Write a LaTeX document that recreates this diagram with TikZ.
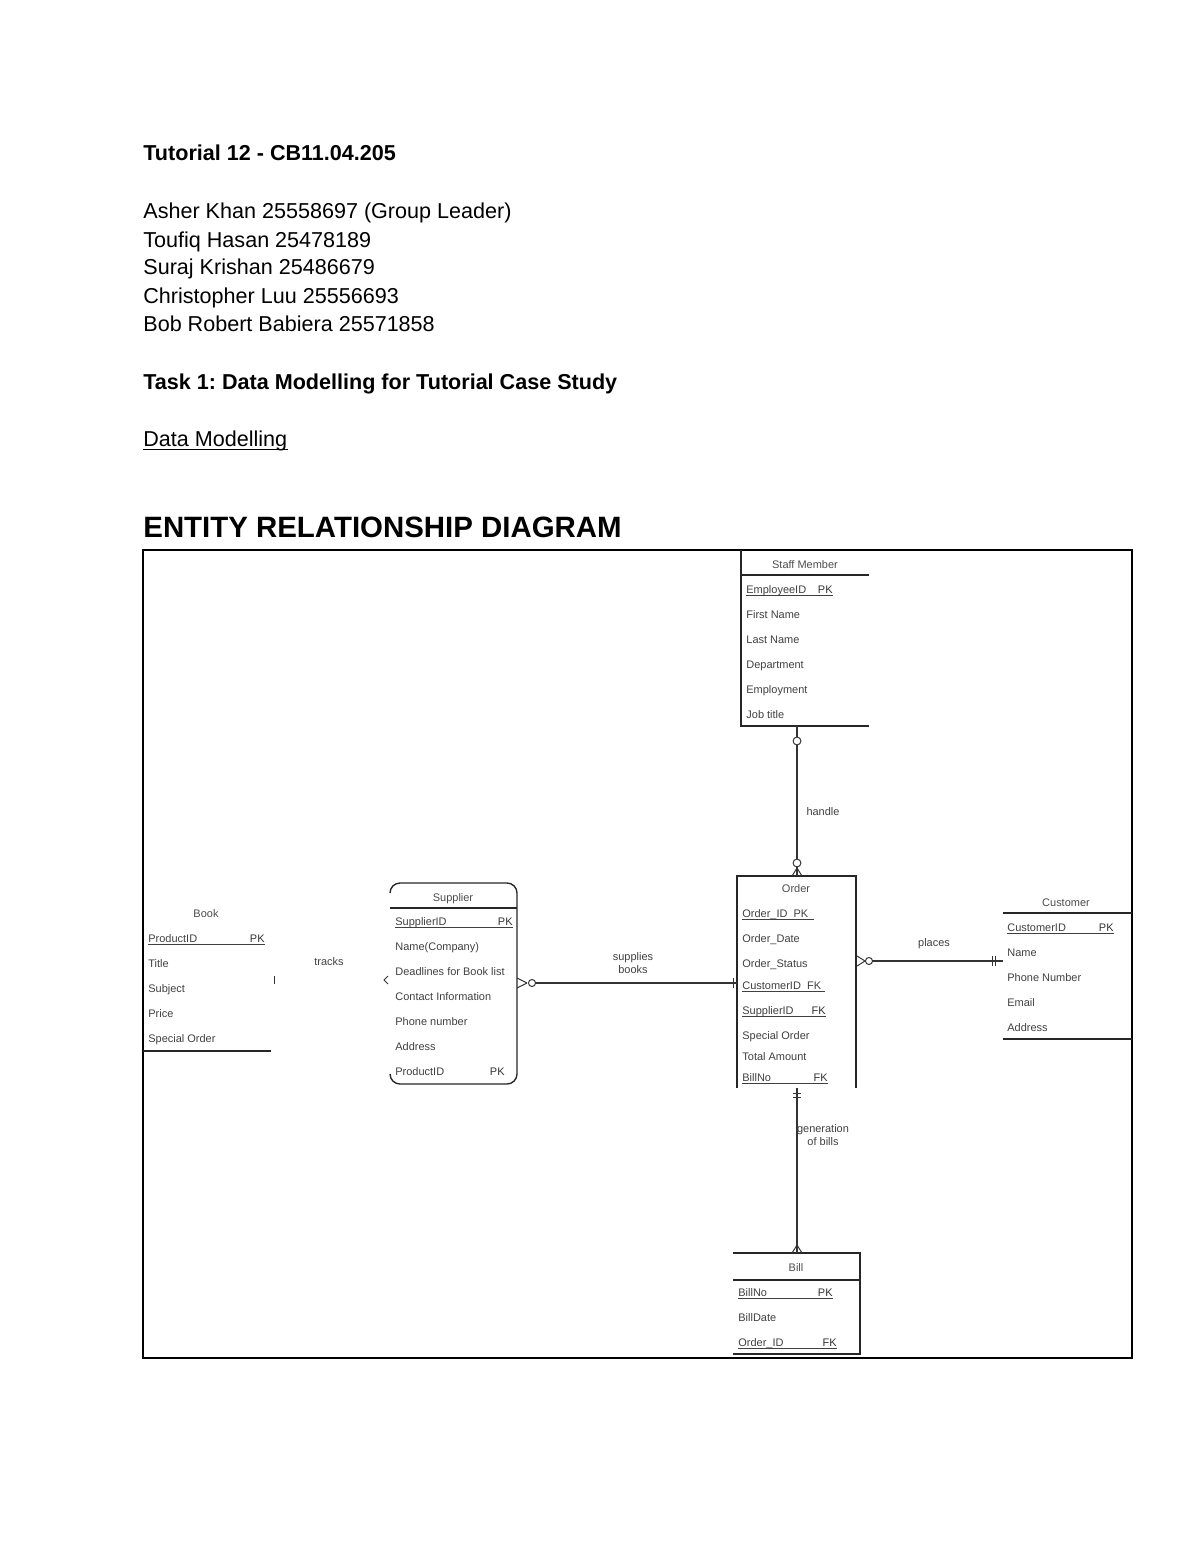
\documentclass[tikz,border=0pt]{standalone}
\usepackage{fontspec}
\setmainfont{Liberation Sans}
\frenchspacing
\begin{document}
\begin{tikzpicture}[x=0.51pt,y=-0.51pt,
  hdr/.style={anchor=base west,inner sep=0pt,font=\fontsize{11}{13}\selectfont},
  hdrb/.style={hdr,font=\fontsize{11}{13}\selectfont\bfseries},
  big/.style={anchor=base west,inner sep=0pt,font=\fontsize{15}{18}\selectfont\bfseries},
  tbl/.style={anchor=base west,inner sep=0pt,yshift=-4*0.51pt,font=\fontsize{5.6}{6.5}\selectfont,text=black!75},
  key/.style={anchor=base east,inner sep=0pt,yshift=-4*0.51pt,font=\fontsize{5.6}{6.5}\selectfont,text=black!80},
  ttl/.style={anchor=base,inner sep=0pt,yshift=-4*0.51pt,font=\fontsize{5.6}{6.5}\selectfont,text=black!70},
  lbl/.style={anchor=center,inner sep=0pt,font=\fontsize{5.6}{6.5}\selectfont,text=black!75,align=center},
  ln/.style={line width=0.7pt,draw=black!85},
  ul/.style={line width=0.5pt,draw=black!75},
  rel/.style={line width=0.6pt,draw=black!80},
  mk/.style={line width=0.5pt,draw=black!80},
  circ/.style={line width=0.5pt,draw=black!80,fill=white}]
\useasboundingbox (0,0) rectangle (1200,1553);

% ---------- header text ----------
\node[hdrb] (t1) at (143,161) {Tutorial 12 - CB11.04.205};
\node[hdr] (n1) at (143,219) {Asher Khan 25558697 (Group Leader)};
\node[hdr] (n2) at (143,247) {Toufiq Hasan 25478189};
\node[hdr] (n3) at (143,275) {Suraj Krishan 25486679};
\node[hdr] (n4) at (143,303) {Christopher Luu 25556693};
\node[hdr] (n5) at (143,331) {Bob Robert Babiera 25571858};
\node[hdrb] (t2) at (143,389) {Task 1: Data Modelling for Tutorial Case Study};
\node[hdr] (dm) at (143,446) {Data Modelling};
\draw[line width=0.5pt] ([yshift=-1.8pt]dm.base west) -- ([yshift=-1.8pt]dm.base east);
\node[big] (erd) at (143,537) {ENTITY RELATIONSHIP DIAGRAM};

% ---------- frame ----------
\draw[line width=1.5pt] (143,550) rectangle (1132,1358);

% ---------- Staff Member ----------
\draw[ln] (741,550) -- (741,726) -- (869,726);
\draw[ln] (741,575) -- (869,575);
\node[ttl] (smt) at (805,564) {Staff Member};
\node[tbl] (sm1) at (746,589) {EmployeeID};
\node[key] (sm1k) at (833,589) {PK};
\draw[ul] (746,595) -- (833,595);
\node[tbl] (sm2) at (746,614) {First Name};
\node[tbl] (sm3) at (746,639) {Last Name};
\node[tbl] (sm4) at (746,664) {Department};
\node[tbl] (sm5) at (746,689) {Employment};
\node[tbl] (sm6) at (746,714) {Job title};
\coordinate (smb) at (797,726);

% ---------- Order ----------
\draw[ln] (737,1088) -- (737,876) -- (856,876) -- (856,1088);
\node[ttl] (ot) at (796,888) {Order};
\node[tbl] (o1) at (742,913) {Order\_ID\ \ PK};
\draw[ul] (742,919) -- (814,919);
\node[tbl] (o2) at (742,938) {Order\_Date};
\node[tbl] (o3) at (742,963) {Order\_Status};
\node[tbl] (o4) at (742,985) {CustomerID\ \ FK};
\draw[ul] (742,991) -- (825,991);
\node[tbl] (o5) at (742,1010) {SupplierID};
\node[key] (o5k) at (826,1010) {FK};
\draw[ul] (742,1016) -- (826,1016);
\node[tbl] (o6) at (742,1035) {Special Order};
\node[tbl] (o7) at (742,1056) {Total Amount};
\node[tbl] (o8) at (742,1077) {BillNo};
\node[key] (o8k) at (828,1077) {FK};
\draw[ul] (742,1083) -- (828,1083);
\coordinate (ortop) at (797,876);
\coordinate (orbot) at (797,1088);
\coordinate (orleft) at (737,983);
\coordinate (orright) at (856,961);

% ---------- Customer ----------
\draw[ln] (1003,913) -- (1132,913);
\draw[ln] (1003,1039) -- (1132,1039);
\node[ttl] (ct) at (1066,902) {Customer};
\node[tbl] (c1) at (1007,927) {CustomerID};
\node[key] (c1k) at (1114,927) {PK};
\draw[ul] (1007,933) -- (1114,933);
\node[tbl] (c2) at (1007,952) {Name};
\node[tbl] (c3) at (1007,977) {Phone Number};
\node[tbl] (c4) at (1007,1002) {Email};
\node[tbl] (c5) at (1007,1027) {Address};
\coordinate (cleft) at (1003,961);

% ---------- Supplier ----------
\draw[ln] (390,893) arc[start angle=180,end angle=270,radius=10] -- (507,883)
  arc[start angle=270,end angle=360,radius=10] -- (517,1074)
  arc[start angle=0,end angle=90,radius=10] -- (400,1084)
  arc[start angle=90,end angle=180,radius=10];
\draw[ln] (390,908) -- (517,908);
\node[ttl] (st) at (453,897) {Supplier};
\node[tbl] (s1) at (395,921) {SupplierID};
\node[key] (s1k) at (513,921) {PK};
\draw[ul] (395,927) -- (513,927);
\node[tbl] (s2) at (395,946) {Name(Company)};
\node[tbl] (s3) at (395,971) {Deadlines for Book list};
\node[tbl] (s4) at (395,996) {Contact Information};
\node[tbl] (s5) at (395,1021) {Phone number};
\node[tbl] (s6) at (395,1046) {Address};
\node[tbl] (s7) at (395,1071) {ProductID};
\node[key] (s7k) at (505,1071) {PK};
\coordinate (sright) at (517,983);
\coordinate (sleft) at (390,980);

% ---------- Book ----------
\draw[ln] (143,1051) -- (271,1051);
\node[ttl] (bt) at (206,913) {Book};
\node[tbl] (b1) at (148,938) {ProductID};
\node[key] (b1k) at (265,938) {PK};
\draw[ul] (148,944) -- (265,944);
\node[tbl] (b2) at (148,963) {Title};
\node[tbl] (b3) at (148,988) {Subject};
\node[tbl] (b4) at (148,1013) {Price};
\node[tbl] (b5) at (148,1038) {Special Order};
\coordinate (bright) at (274,980);

% ---------- Bill ----------
\draw[ln] (733,1253) -- (860,1253) -- (860,1354) -- (733,1354);
\draw[ln] (733,1280) -- (860,1280);
\node[ttl] (blt) at (796,1267) {Bill};
\node[tbl] (bl1) at (738,1292) {BillNo};
\node[key] (bl1k) at (833,1292) {PK};
\draw[ul] (738,1298) -- (833,1298);
\node[tbl] (bl2) at (738,1317) {BillDate};
\node[tbl] (bl3) at (738,1342) {Order\_ID};
\node[key] (bl3k) at (837,1342) {FK};
\draw[ul] (738,1348) -- (837,1348);
\coordinate (bltop) at (797,1253);

% ---------- relationship: handle ----------
\draw[rel] (smb) -- (ortop);
\draw[circ] ([yshift=-15*0.51pt]smb) circle[radius=2pt];
\draw[circ] ([yshift=13*0.51pt]ortop) circle[radius=2pt];
\draw[mk] ([yshift=8*0.51pt]ortop) -- ([xshift=-5*0.51pt]ortop);
\draw[mk] ([yshift=8*0.51pt]ortop) -- ([xshift=5*0.51pt]ortop);
\node[lbl] (lh) at (823,812) {handle};

% ---------- relationship: supplies books ----------
\draw[rel] ([xshift=19*0.51pt]sright) -- (orleft);
\draw[mk] ([xshift=10*0.51pt]sright) -- ([yshift=-5*0.51pt]sright);
\draw[mk] ([xshift=10*0.51pt]sright) -- ([yshift=5*0.51pt]sright);
\draw[circ] ([xshift=15*0.51pt]sright) circle[radius=1.8pt];
\draw[mk] ([xshift=-4*0.51pt,yshift=-5*0.51pt]orleft) -- ([xshift=-4*0.51pt,yshift=5*0.51pt]orleft);
\node[lbl] (ls) at (633,963) {supplies\\books};

% ---------- relationship: places ----------
\draw[rel] ([xshift=17*0.51pt]orright) -- (cleft);
\draw[mk] ([xshift=9*0.51pt]orright) -- ([xshift=1*0.51pt,yshift=-5*0.51pt]orright);
\draw[mk] ([xshift=9*0.51pt]orright) -- ([xshift=1*0.51pt,yshift=5*0.51pt]orright);
\draw[circ] ([xshift=13*0.51pt]orright) circle[radius=1.8pt];
\draw[mk] ([xshift=-11*0.51pt,yshift=-5*0.51pt]cleft) -- ([xshift=-11*0.51pt,yshift=5*0.51pt]cleft);
\draw[mk] ([xshift=-8*0.51pt,yshift=-5*0.51pt]cleft) -- ([xshift=-8*0.51pt,yshift=5*0.51pt]cleft);
\node[lbl] (lp) at (934,944) {places};

% ---------- relationship: generation of bills ----------
\draw[rel] (orbot) -- (bltop);
\draw[mk] ([xshift=-4*0.51pt,yshift=-5*0.51pt]orbot) -- ([xshift=4*0.51pt,yshift=-5*0.51pt]orbot);
\draw[mk] ([xshift=-4*0.51pt,yshift=-9*0.51pt]orbot) -- ([xshift=4*0.51pt,yshift=-9*0.51pt]orbot);
\draw[mk] ([yshift=8*0.51pt]bltop) -- ([xshift=-5*0.51pt]bltop);
\draw[mk] ([yshift=8*0.51pt]bltop) -- ([xshift=5*0.51pt]bltop);
\node[lbl] (lg) at (823,1135) {generation\\of bills};

% ---------- relationship: tracks (marks only) ----------
\draw[mk] ([yshift=-4*0.51pt]bright) -- ([yshift=4*0.51pt]bright);
\draw[mk] ([xshift=-2*0.51pt,yshift=-4*0.51pt]sleft) -- ([xshift=-6*0.51pt]sleft) -- ([xshift=-2*0.51pt,yshift=4*0.51pt]sleft);
\node[lbl] (lt) at (329,962) {tracks};
\end{tikzpicture}
\end{document}
